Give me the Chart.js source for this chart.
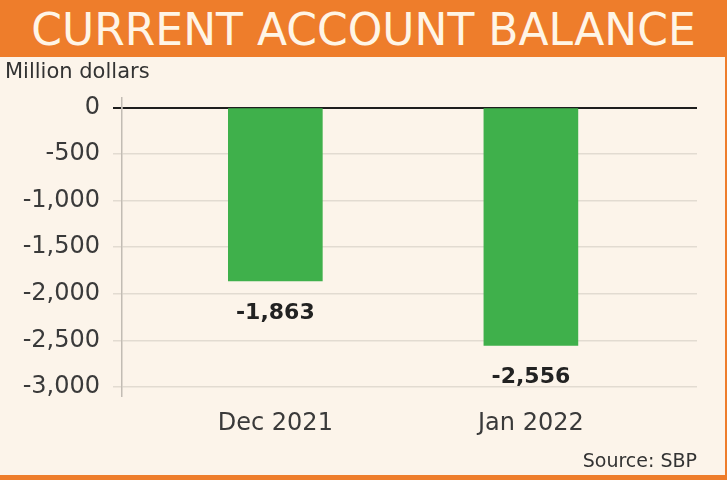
<!DOCTYPE html>
<html>
<head>
<meta charset="utf-8">
<script src="https://cdn.jsdelivr.net/npm/chart.js@4"></script>
<style>
  html, body { margin: 0; padding: 0; }
  body { width: 727px; height: 480px; background: #ee7d2b; overflow: hidden; }
  #header {
    height: 57px; line-height: 60px; text-align: center;
    font-family: 'DejaVu Sans', sans-serif; font-size: 44px;
    color: #fff5e6; white-space: nowrap;
  }
  #panel { position: absolute; left: 0; top: 57px; width: 725px; height: 418px; background: #fcf4ea; }
</style>
</head>
<body>
<div id="header">CURRENT ACCOUNT BALANCE</div>
<div id="panel"><canvas id="balanceChart"></canvas></div>
<script>
// values in million dollars (source: SBP)
const categories = ['Dec 2021', 'Jan 2022'];
const balance = [-1863, -2556];
const yTicks = [0, -500, -1000, -1500, -2000, -2500, -3000];

const fmt = (v) => v.toLocaleString('en-US');

// value under each bar
const barLabels = {
    id: 'barLabels',
    afterDatasetsDraw(chart) {
        const ctx = chart.ctx;
        const meta = chart.getDatasetMeta(0);
        ctx.save();
        ctx.font = 'bold 22px "DejaVu Sans"';
        ctx.fillStyle = '#222';
        ctx.textAlign = 'center';
        ctx.textBaseline = 'middle';
        meta.data.forEach((bar, i) => {
            ctx.fillText(fmt(balance[i]), bar.x, bar.y + 32);
        });
        ctx.restore();
    }
};

// source note bottom right
const sourceNote = {
    id: 'sourceNote',
    afterDraw(chart) {
        const ctx = chart.ctx;
        ctx.save();
        ctx.font = '19px "DejaVu Sans"';
        ctx.fillStyle = '#333';
        ctx.textAlign = 'right';
        ctx.textBaseline = 'middle';
        ctx.fillText('Source: SBP', chart.chartArea.right, 405);
        ctx.restore();
    }
};

Chart.defaults.font.family = '"DejaVu Sans", sans-serif';
Chart.defaults.color = '#3a3a3a';

var ctx = document.getElementById('balanceChart');
var balanceChart = new Chart(ctx, {
    type: 'bar',
    data: {
        datasets: [{
            data: balance.map((v, i) => ({x: i, y: v})),
            backgroundColor: '#3fb04b',
            borderWidth: 0,
            barThickness: 94
        }]
    },
    options: {
        responsive: true,
        maintainAspectRatio: false,
        animation: false,
        locale: 'en-US',
        layout: {
            padding: {left: 5, right: 28, top: 0, bottom: 24}
        },
        plugins: {
            legend: {display: false},
            tooltip: {enabled: false},
            subtitle: {
                display: true,
                text: 'Million dollars',
                align: 'start',
                color: '#333',
                font: {size: 21},
                padding: {top: 3, bottom: 13}
            }
        },
        scales: {
            x: {
                type: 'linear',
                min: -0.6,
                max: 1.65,
                offset: false,
                grid: {display: false, drawTicks: false},
                border: {display: false},
                ticks: {
                    stepSize: 1,
                    includeBounds: false,
                    padding: 13,
                    font: {size: 24},
                    callback: (v) => categories[v] ?? ''
                }
            },
            y: {
                min: -3100,
                max: 100,
                afterFit: (scale) => { scale.width = 117; },
                afterBuildTicks: (scale) => {
                    scale.ticks = yTicks.map((v) => ({value: v}));
                },
                grid: {
                    color: (c) => c.tick && c.tick.value === 0 ? '#1e1e1e' : '#e2dbd1',
                    lineWidth: (c) => c.tick && c.tick.value === 0 ? 2 : 1.5,
                    tickLength: 9
                },
                border: {color: '#c2bcb4', width: 1.5},
                ticks: {
                    padding: 13,
                    font: {size: 24},
                    callback: (v) => fmt(v)
                }
            }
        }
    },
    plugins: [barLabels, sourceNote]
});
</script>
</body>
</html>
